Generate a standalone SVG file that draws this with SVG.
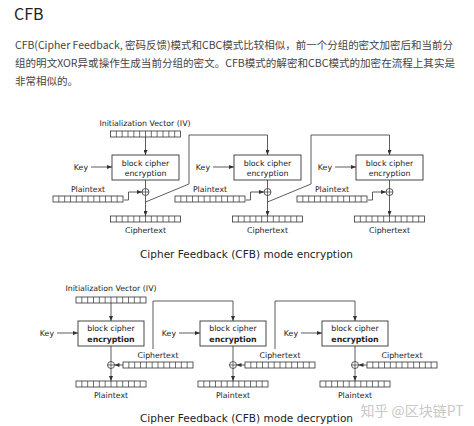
<svg xmlns="http://www.w3.org/2000/svg" xmlns:xlink="http://www.w3.org/1999/xlink" width="474" height="426" viewBox="0 0 474 426">
<style>
.bg{fill:#fff}
.h{font-family:"Noto Sans CJK SC","Noto Sans",sans-serif;fill:#222;font-size:16px}
.p{font-family:"Noto Sans CJK SC","Noto Sans",sans-serif;fill:#444;font-size:10.5px}
.t{font-family:"DejaVu Sans",sans-serif;fill:#222;font-size:7.8px;text-anchor:middle}
.te{font-family:"DejaVu Sans",sans-serif;fill:#222;font-size:7.8px;text-anchor:end}
.b{font-weight:bold}
.ttl{font-family:"DejaVu Sans",sans-serif;fill:#222;font-size:11px;text-anchor:middle}
.box{fill:#fff;stroke:#333;stroke-width:0.9}
.ln{fill:none;stroke:#333;stroke-width:0.8}
.ar{fill:none;stroke:#333;stroke-width:0.8;marker-end:url(#ah)}
.wm{font-family:"Noto Sans CJK SC",sans-serif;fill:#c8c8c8;font-size:14px;text-anchor:middle}
</style>
<defs>
<marker id="ah" markerUnits="userSpaceOnUse" markerWidth="5" markerHeight="4" refX="5" refY="2" orient="auto">
<path d="M0,0 L5,2 L0,4 z" fill="#333"/>
</marker>
<g id="reg">
<rect x="0" y="0" width="70" height="6" fill="#fff" stroke="#333" stroke-width="0.8"/>
<path d="M5.83,0v6M11.67,0v6M17.5,0v6M23.33,0v6M29.17,0v6M35,0v6M40.83,0v6M46.67,0v6M52.5,0v6M58.33,0v6M64.17,0v6" stroke="#333" stroke-width="0.7"/>
</g>
<g id="xor">
<circle cx="0" cy="0" r="3.5" fill="#fff" stroke="#333" stroke-width="0.8"/>
<path d="M-3.5,0H3.5M0,-3.5V3.5" stroke="#333" stroke-width="0.7"/>
</g>
</defs>
<rect class="bg" x="0" y="0" width="474" height="426"/>

<g id="heading">
<text class="h" x="14" y="20">CFB</text>
<text class="p" x="15" y="49" textLength="438" lengthAdjust="spacingAndGlyphs">CFB(Cipher Feedback, 密码反馈)模式和CBC模式比较相似，前一个分组的密文加密后和当前分</text>
<text class="p" x="15" y="67" textLength="440" lengthAdjust="spacingAndGlyphs">组的明文XOR异或操作生成当前分组的密文。CFB模式的解密和CBC模式的加密在流程上其实是</text>
<text class="p" x="15" y="85">非常相似的。</text>
</g>

<!-- ENCRYPTION -->
<g id="enc-connectors">
<path class="ar" d="M145.5,137V155"/>
<path class="ar" d="M91,167H112"/>
<path class="ar" d="M213,167H234"/>
<path class="ar" d="M335,167H356"/>
<path class="ln" d="M145.5,180V188.5"/>
<path class="ln" d="M267.5,180V188.5"/>
<path class="ln" d="M389.5,180V188.5"/>
<path class="ar" d="M124,200H128.5V192H142"/>
<path class="ar" d="M246,200H250.5V192H264"/>
<path class="ar" d="M368,200H372.5V192H386"/>
<path class="ar" d="M145.5,195.5V216"/>
<path class="ar" d="M267.5,195.5V216"/>
<path class="ar" d="M389.5,195.5V216"/>
<path class="ar" d="M145.5,202L189,184V135H267.5V155"/>
<path class="ar" d="M267.5,202L311,184V135H389.5V155"/>
</g>
<g id="enc-iv">
<text class="t" x="145" y="126">Initialization Vector (IV)</text>
<use xlink:href="#reg" x="110.5" y="131"/>
</g>
<g id="enc-block1">
<rect class="box" x="112" y="155" width="67" height="25"/>
<text class="t" x="145.5" y="166">block cipher</text>
<text class="t" x="145.5" y="176">encryption</text>
<text class="te" x="88" y="170">Key</text>
</g>
<g id="enc-block2">
<rect class="box" x="234" y="155" width="67" height="25"/>
<text class="t" x="267.5" y="166">block cipher</text>
<text class="t" x="267.5" y="176">encryption</text>
<text class="te" x="210" y="170">Key</text>
</g>
<g id="enc-block3">
<rect class="box" x="356" y="155" width="67" height="25"/>
<text class="t" x="389.5" y="166">block cipher</text>
<text class="t" x="389.5" y="176">encryption</text>
<text class="te" x="332" y="170">Key</text>
</g>
<g id="enc-xor">
<use xlink:href="#xor" x="145.5" y="192"/>
<use xlink:href="#xor" x="267.5" y="192"/>
<use xlink:href="#xor" x="389.5" y="192"/>
</g>
<g id="enc-plain">
<text class="t" x="88" y="192">Plaintext</text>
<use xlink:href="#reg" x="53" y="196"/>
<text class="t" x="210" y="192">Plaintext</text>
<use xlink:href="#reg" x="175" y="196"/>
<text class="t" x="332" y="192">Plaintext</text>
<use xlink:href="#reg" x="297" y="196"/>
</g>
<g id="enc-cipher">
<use xlink:href="#reg" x="110.5" y="216"/>
<text class="t" x="145.5" y="233">Ciphertext</text>
<use xlink:href="#reg" x="232.5" y="216"/>
<text class="t" x="267.5" y="233">Ciphertext</text>
<use xlink:href="#reg" x="354.5" y="216"/>
<text class="t" x="389.5" y="233">Ciphertext</text>
</g>
<text class="ttl" x="246.5" y="258" textLength="213" lengthAdjust="spacingAndGlyphs">Cipher Feedback (CFB) mode encryption</text>

<!-- DECRYPTION -->
<g id="dec-connectors">
<path class="ar" d="M111,303V321"/>
<path class="ar" d="M57,333H78"/>
<path class="ar" d="M179,333H200"/>
<path class="ar" d="M301,333H322"/>
<path class="ln" d="M111,346V361.5"/>
<path class="ln" d="M233,346V361.5"/>
<path class="ln" d="M355,346V361.5"/>
<path class="ar" d="M111,368.5V381"/>
<path class="ar" d="M233,368.5V381"/>
<path class="ar" d="M355,368.5V381"/>
<path class="ar" d="M123,365H114.5"/>
<path class="ar" d="M245,365H236.5"/>
<path class="ar" d="M367,365H358.5"/>
<path class="ar" d="M153,349V301H233V321"/>
<path class="ar" d="M275,349V301H355V321"/>
</g>
<g id="dec-iv">
<text class="t" x="111" y="291">Initialization Vector (IV)</text>
<use xlink:href="#reg" x="76" y="297"/>
</g>
<g id="dec-block1">
<rect class="box" x="78" y="321" width="66" height="25"/>
<text class="t" x="111" y="331">block cipher</text>
<text class="t b" x="111" y="342">encryption</text>
<text class="te" x="54" y="336">Key</text>
</g>
<g id="dec-block2">
<rect class="box" x="200" y="321" width="66" height="25"/>
<text class="t" x="233" y="331">block cipher</text>
<text class="t b" x="233" y="342">encryption</text>
<text class="te" x="176" y="336">Key</text>
</g>
<g id="dec-block3">
<rect class="box" x="322" y="321" width="66" height="25"/>
<text class="t" x="355" y="331">block cipher</text>
<text class="t b" x="355" y="342">encryption</text>
<text class="te" x="298" y="336">Key</text>
</g>
<g id="dec-xor">
<use xlink:href="#xor" x="111" y="365"/>
<use xlink:href="#xor" x="233" y="365"/>
<use xlink:href="#xor" x="355" y="365"/>
</g>
<g id="dec-cipher">
<text class="t" x="158" y="358">Ciphertext</text>
<use xlink:href="#reg" x="123" y="362"/>
<text class="t" x="280" y="358">Ciphertext</text>
<use xlink:href="#reg" x="245" y="362"/>
<text class="t" x="402" y="358">Ciphertext</text>
<use xlink:href="#reg" x="367" y="362"/>
</g>
<g id="dec-plain">
<use xlink:href="#reg" x="76" y="381"/>
<text class="t" x="111" y="398">Plaintext</text>
<use xlink:href="#reg" x="198" y="381"/>
<text class="t" x="233" y="398">Plaintext</text>
<use xlink:href="#reg" x="320" y="381"/>
<text class="t" x="355" y="398">Plaintext</text>
</g>
<text class="wm" x="412" y="416">知乎 @区块链PT</text>
<text class="ttl" x="246.5" y="422" textLength="213" lengthAdjust="spacingAndGlyphs">Cipher Feedback (CFB) mode decryption</text>
</svg>
